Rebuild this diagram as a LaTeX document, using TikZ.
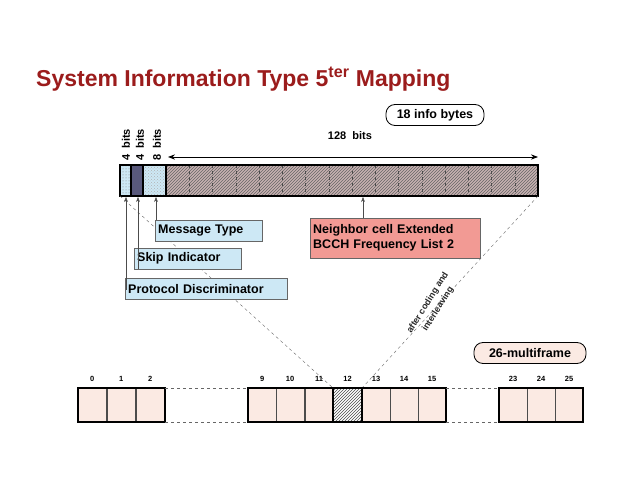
\documentclass[tikz,border=0pt]{standalone}
\usepackage{fontspec}
\setmainfont{Liberation Sans}
\usetikzlibrary{patterns,arrows.meta}
\definecolor{titred}{HTML}{9B1C1C}
\definecolor{lblue}{HTML}{CDE8F5}
\definecolor{lred}{HTML}{F29A94}
\definecolor{lpink}{HTML}{FBEAE3}
\definecolor{barfill}{HTML}{C9B2B2}
\begin{document}
\begin{tikzpicture}[x=1pt,y=-1pt,
  lbl/.style={draw=black!60,fill=lblue,font=\bfseries\fontsize{12.5}{15}\selectfont,inner sep=3pt,anchor=north west,minimum height=21,text width=#1,align=left},
  rnd/.style={draw,thick,rounded corners=9pt,fill=lpink,font=\bfseries\fontsize{12.5}{15}\selectfont,minimum height=21},
  small/.style={font=\bfseries\fontsize{7.5}{9}\selectfont},
  bits/.style={font=\bfseries\fontsize{11}{13}\selectfont,rotate=90,anchor=west,inner sep=1pt},
  cell/.style={draw=black!70,fill=lpink},
  dline/.style={dashed,black!60},
  arr/.style={-{Stealth[length=5pt]},black!70}]
\useasboundingbox (0,0) rectangle (638,478);
\node[font=\bfseries\fontsize{23}{26}\selectfont,text=titred,anchor=west,inner sep=0pt] (title) at (36,79) {System Information Type 5\textsuperscript{ter} Mapping};
% bar
\fill[barfill] (166,165) rectangle (538,196);
\fill[pattern=north east lines,pattern color=black!60] (166,165) rectangle (538,196);
\foreach \i in {1,...,15}{\draw[dashed,black!70] ({166+\i*372/16},165) -- ({166+\i*372/16},196);}
\fill[lblue] (120,165) rectangle (131,196);
\fill[pattern=dots,pattern color=black!50] (120,165) rectangle (131,196);
\fill[black!55!blue!30!gray] (131,165) rectangle (143,196);
\fill[lblue] (143,165) rectangle (166,196);
\fill[pattern=crosshatch dots,pattern color=black!30] (143,165) rectangle (166,196);
\draw[line width=1.6pt] (120,165) rectangle (538,196);
\foreach \x in {131,143,166}{\draw[line width=1.6pt] (\x,165) -- (\x,196);}
\coordinate (bl) at (120,196); \coordinate (br) at (538,196);
\node[bits] (b1) at (126,162) {4\ \ bits};
\node[bits] (b2) at (140,162) {4\ \ bits};
\node[bits] (b3) at (157,162) {8\ \ bits};
\node[font=\bfseries\fontsize{11}{13}\selectfont] (b128) at (350,136) {128\ \ bits};
\coordinate (a1) at (168,157); \coordinate (a2) at (538,157);
\draw[{Stealth[length=7pt]}-{Stealth[length=7pt]},thick] (a1) -- (a2);
\node[rnd,fill=white,minimum width=98] (info) at (435,115) {18 info bytes};
% dashed mapping lines
\coordinate (s12l) at (333,388); \coordinate (s12r) at (362,388);
\draw[dline] (bl) -- (s12l);
\draw[dline] (br) -- (s12r);
\node[font=\bfseries\fontsize{9}{12}\selectfont,rotate=58,align=center,black!85] (aci) at (433,306) {after coding and\\interleaving};
% labels
\node[lbl=156] (pd) at (125,278) {Protocol Discriminator};
\node[lbl=101] (si) at (134,248) {Skip Indicator};
\node[lbl=101] (mt) at (155,220) {Message Type};
\node[draw=black!60,fill=lred,font=\bfseries\fontsize{12.5}{15}\selectfont,align=left,text width=164,minimum height=40,anchor=north west,inner sep=3pt] (nc) at (310,218) {Neighbor cell Extended\\BCCH Frequency List 2};
\coordinate (pdt) at (126,197); \coordinate (pdb) at (126,290);
\coordinate (sit) at (138,197); \coordinate (sib) at (138,269);
\coordinate (mtt) at (156,197); \coordinate (mtb) at (156,220);
\coordinate (nct) at (363,197);
\draw[arr] (pdb) -- (pdt);
\draw[arr] (sib) -- (sit);
\draw[arr] (mtb) -- (mtt);
\draw[arr] (nc.north -| nct) -- (nct);
% multiframe
\node[rnd,minimum width=112] (mf) at (530,353) {26-multiframe};
\def\cw{28.3}
\foreach \n/\x in {0/78,1/107,2/136,9/248,10/276,11/305,13/362,14/390,15/418,23/499,24/527,25/555}{
  \draw[cell] (\x,388) rectangle ++(\cw,34);
  \node[small] (n\n) at (\x+\cw/2,379) {\n};
}
\fill[white] (333,388) rectangle (362,422);
\fill[pattern=north east lines,pattern color=black!70] (333,388) rectangle (362,422);
\node[small] (n12) at (347.5,379) {12};
\foreach \a/\b in {78/165,248/446,499/583}{\draw[line width=1.6pt] (\a,388) rectangle (\b,422);}
\draw[line width=1.6pt] (333,388) -- (333,422) (362,388) -- (362,422);
\draw[dline] (165,388) -- (248,388) (165,422) -- (248,422);
\draw[dline] (446,388) -- (499,388) (446,422) -- (499,422);
\end{tikzpicture}
\end{document}
